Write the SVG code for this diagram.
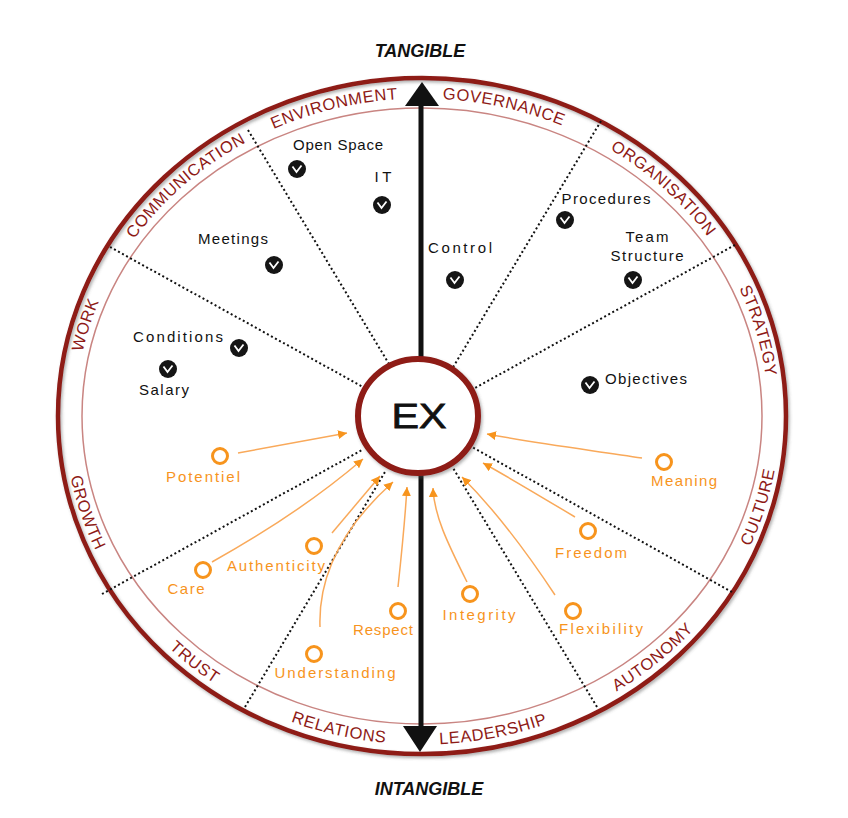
<svg xmlns="http://www.w3.org/2000/svg" width="848" height="818" viewBox="0 0 848 818">
<style>
.ring{fill:none;stroke:#8e1a16;stroke-width:4.5}
.inner{fill:none;stroke:#c98582;stroke-width:1.5}
.axis{stroke:#8e1a16;stroke-width:4.5}
.dot{stroke:#111;stroke-width:2;stroke-dasharray:2 2.6;fill:none}
.lbl{font-family:"Liberation Sans",Arial,sans-serif;font-size:16.5px;fill:#8e1a16;letter-spacing:0.6px}
.blk{font-family:"Liberation Sans",Arial,sans-serif;font-size:15px;fill:#111;text-anchor:middle}
.org{font-family:"Liberation Sans",Arial,sans-serif;font-size:15px;fill:#f7941d;text-anchor:middle}
.oring{fill:#fff;stroke:#f7941d;stroke-width:3}
.oarr{fill:none;stroke:#f9a95a;stroke-width:1.5;marker-end:url(#oa)}
.title{font-family:"Liberation Sans",Arial,sans-serif;font-size:18px;font-weight:bold;font-style:italic;fill:#111;text-anchor:middle}
</style>
<defs>
<filter id="sh" x="-10%" y="-10%" width="120%" height="120%">
<feDropShadow dx="1.5" dy="2" stdDeviation="1.8" flood-color="#555" flood-opacity="0.45"/>
</filter>
<marker id="oa" viewBox="0 0 10 10" refX="10" refY="5" markerWidth="9" markerHeight="9" markerUnits="userSpaceOnUse" orient="auto">
<path d="M0,0 L10,5 L0,10 z" fill="#f7941d"/>
</marker>
<g id="ball">
<circle r="9" fill="#151515"/>
<path d="M-4.5,-2.5 L-0.5,3 L4.5,-3.5" stroke="#fff" stroke-width="1.8" fill="none"/>
</g>
<path id="pGOV" d="M297.8,119.6 A346.5,317.5 0 0 1 683.5,207.7"/>
<path id="pENV" d="M156.6,211.9 A346.5,317.5 0 0 1 540.5,117.6"/>
<path id="pCOM" d="M81.9,355.4 A346.5,317.5 0 0 1 367.8,102.4"/>
<path id="pWOR" d="M94.4,519.4 A346.5,317.5 0 0 1 203.9,169.3"/>
<path id="pSTR" d="M644.7,172.8 A346.5,317.5 0 0 1 747.6,524.6"/>
<path id="pORG" d="M482.2,103.3 A346.5,317.5 0 0 1 763.2,360.9"/>
<path id="pGRO" d="M82,314.5 A357.5,328.5 0 0 0 201.9,674.9"/>
<path id="pTRU" d="M75.1,495.5 A357.5,328.5 0 0 0 384.6,742.7"/>
<path id="pREL" d="M152.2,631.5 A357.5,328.5 0 0 0 550.1,722.7"/>
<path id="pLEA" d="M282.3,718.4 A357.5,328.5 0 0 0 683.5,640"/>
<path id="pAUT" d="M465.6,742 A357.5,328.5 0 0 0 770.3,489.9"/>
<path id="pCUL" d="M647,671.3 A357.5,328.5 0 0 0 760,309"/>
</defs>
<rect width="848" height="818" fill="#fff"/>

<g id="frame">
<ellipse class="ring" cx="422" cy="416" rx="364" ry="338" filter="url(#sh)"/>
<ellipse class="inner" cx="422" cy="416" rx="340" ry="308"/>
<line class="axis" x1="61" y1="420" x2="358" y2="420" filter="url(#sh)"/>
<line class="axis" x1="478" y1="420" x2="785" y2="420" filter="url(#sh)"/>
</g>

<g id="ring-labels">
<text class="lbl"><textPath href="#pGOV" startOffset="50%" text-anchor="middle">GOVERNANCE</textPath></text>
<text class="lbl"><textPath href="#pENV" startOffset="50%" text-anchor="middle">ENVIRONMENT</textPath></text>
<text class="lbl"><textPath href="#pCOM" startOffset="50%" text-anchor="middle">COMMUNICATION</textPath></text>
<text class="lbl"><textPath href="#pWOR" startOffset="50%" text-anchor="middle">WORK</textPath></text>
<text class="lbl"><textPath href="#pSTR" startOffset="50%" text-anchor="middle">STRATEGY</textPath></text>
<text class="lbl"><textPath href="#pORG" startOffset="50%" text-anchor="middle">ORGANISATION</textPath></text>
<text class="lbl"><textPath href="#pGRO" startOffset="50%" text-anchor="middle">GROWTH</textPath></text>
<text class="lbl"><textPath href="#pTRU" startOffset="50%" text-anchor="middle">TRUST</textPath></text>
<text class="lbl"><textPath href="#pREL" startOffset="50%" text-anchor="middle">RELATIONS</textPath></text>
<text class="lbl"><textPath href="#pLEA" startOffset="50%" text-anchor="middle">LEADERSHIP</textPath></text>
<text class="lbl"><textPath href="#pAUT" startOffset="50%" text-anchor="middle">AUTONOMY</textPath></text>
<text class="lbl"><textPath href="#pCUL" startOffset="50%" text-anchor="middle">CULTURE</textPath></text>
</g>

<g id="connectors">
<line class="dot" x1="110" y1="247" x2="363" y2="387"/>
<line class="dot" x1="248" y1="130" x2="389" y2="364"/>
<line class="dot" x1="601" y1="121" x2="452" y2="369"/>
<line class="dot" x1="735" y1="245" x2="473" y2="389"/>
<line class="dot" x1="732" y1="592" x2="472" y2="447"/>
<line class="dot" x1="597" y1="707" x2="453" y2="468"/>
<line class="dot" x1="245" y1="707" x2="385" y2="472"/>
<line class="dot" x1="102" y1="594" x2="362" y2="450"/>
<g id="axis-arrow">
<line x1="421" y1="104" x2="421" y2="360" stroke="#111" stroke-width="5"/>
<line x1="421" y1="472" x2="421" y2="728" stroke="#111" stroke-width="5"/>
<polygon points="422,82 439,106 405,106" fill="#111"/>
<polygon points="420,752 403,726 437,726" fill="#111"/>
</g>
<path class="oarr" d="M238,453 L347,433"/>
<path class="oarr" d="M212,562 Q300,513 363,459"/>
<path class="oarr" d="M332,533 L380,476"/>
<path class="oarr" d="M320,627 C318,572 345,525 393,482"/>
<path class="oarr" d="M398,587 C402,550 405,520 407,487"/>
<path class="oarr" d="M467,582 C447,542 434,515 433,488"/>
<path class="oarr" d="M555,595 C522,545 490,505 462,477"/>
<path class="oarr" d="M575,517 C540,496 510,478 483,463"/>
<path class="oarr" d="M642,458 C590,450 540,444 487,434"/>
</g>

<g id="ex">
<ellipse cx="418" cy="416" rx="60" ry="57" fill="#fff" stroke="#8e1a16" stroke-width="6" filter="url(#sh)"/>
<text x="419" y="428" font-family="Liberation Sans, Arial, sans-serif" font-size="35" fill="#111" stroke="#111" stroke-width="0.8" text-anchor="middle" textLength="55" lengthAdjust="spacingAndGlyphs">EX</text>
</g>

<g id="titles">
<text class="title" x="420" y="57">TANGIBLE</text>
<text class="title" x="429" y="795">INTANGIBLE</text>
</g>

<g id="n-openspace"><use href="#ball" x="297" y="169"/><text class="blk" x="338" y="150" textLength="90">Open Space</text></g>
<g id="n-it"><use href="#ball" x="382" y="205"/><text class="blk" x="383" y="182" textLength="17">IT</text></g>
<g id="n-meetings"><use href="#ball" x="274" y="265"/><text class="blk" x="233" y="244" textLength="70">Meetings</text></g>
<g id="n-conditions"><use href="#ball" x="239" y="348"/><text class="blk" x="178" y="342" textLength="90">Conditions</text></g>
<g id="n-salary"><use href="#ball" x="168" y="369"/><text class="blk" x="164" y="395" textLength="50">Salary</text></g>
<g id="n-control"><use href="#ball" x="455" y="280"/><text class="blk" x="460" y="253" textLength="64">Control</text></g>
<g id="n-procedures"><use href="#ball" x="565" y="220"/><text class="blk" x="606" y="204" textLength="89">Procedures</text></g>
<g id="n-team"><use href="#ball" x="633" y="280"/><text class="blk" x="647" y="242" textLength="43">Team</text><text class="blk" x="647" y="261" textLength="73">Structure</text></g>
<g id="n-objectives"><use href="#ball" x="590" y="385"/><text class="blk" x="646" y="384" textLength="82">Objectives</text></g>

<g id="n-potentiel"><circle class="oring" cx="220" cy="456" r="7.5"/><text class="org" x="203" y="482" textLength="74">Potentiel</text></g>
<g id="n-care"><circle class="oring" cx="203" cy="570" r="7.5"/><text class="org" x="186" y="594" textLength="37">Care</text></g>
<g id="n-authenticity"><circle class="oring" cx="314" cy="546" r="7.5"/><text class="org" x="276" y="571" textLength="98">Authenticity</text></g>
<g id="n-understanding"><circle class="oring" cx="314" cy="654" r="7.5"/><text class="org" x="335" y="678" textLength="121">Understanding</text></g>
<g id="n-respect"><circle class="oring" cx="398" cy="611" r="7.5"/><text class="org" x="383" y="635" textLength="60">Respect</text></g>
<g id="n-integrity"><circle class="oring" cx="470" cy="594" r="7.5"/><text class="org" x="479" y="620" textLength="73">Integrity</text></g>
<g id="n-flexibility"><circle class="oring" cx="573" cy="611" r="7.5"/><text class="org" x="601" y="634" textLength="84">Flexibility</text></g>
<g id="n-freedom"><circle class="oring" cx="588" cy="531" r="7.5"/><text class="org" x="591" y="558" textLength="72">Freedom</text></g>
<g id="n-meaning"><circle class="oring" cx="664" cy="462" r="7.5"/><text class="org" x="684" y="486" textLength="66">Meaning</text></g>
</svg>
